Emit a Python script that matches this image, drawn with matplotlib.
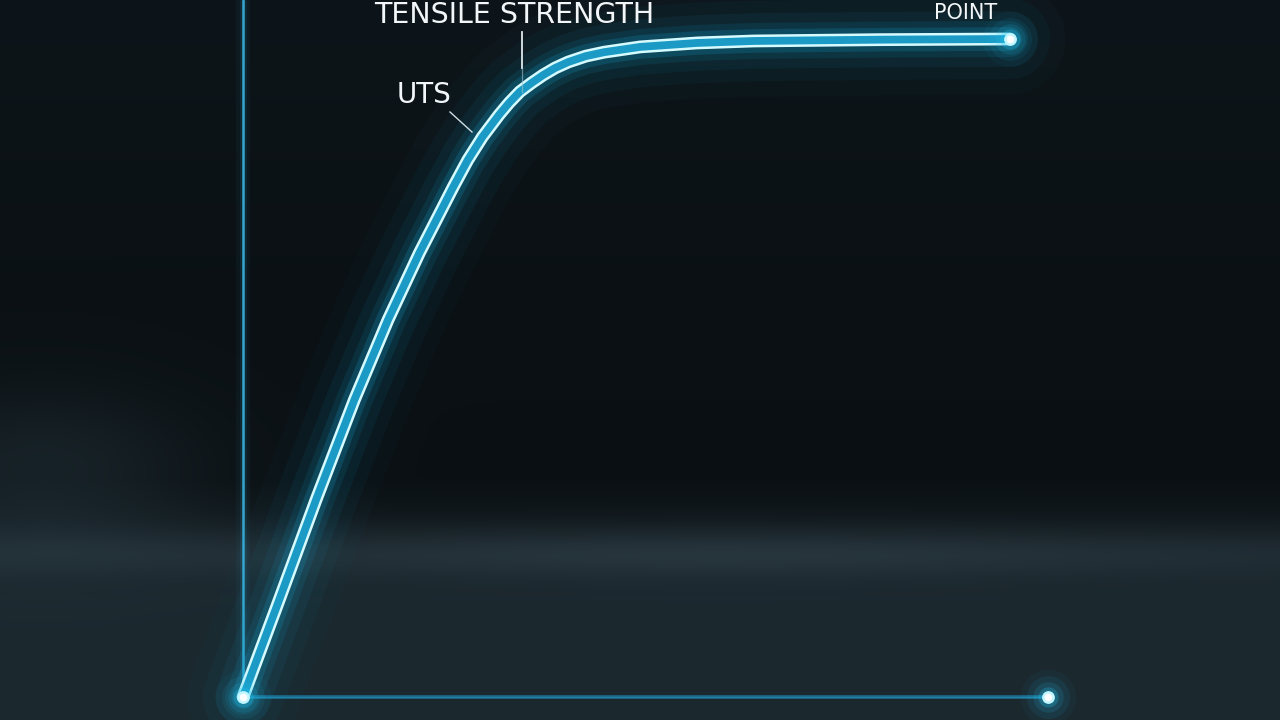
import numpy as np
import matplotlib
matplotlib.use("Agg")
import matplotlib.pyplot as plt

# stress-strain curve (normalised units: strain 0..1, stress 0..1) ---------------
strain = [0.0, 0.047, 0.095, 0.145, 0.189, 0.230, 0.274, 0.293, 0.312, 0.334,
          0.347, 0.361, 0.376, 0.391, 0.407, 0.424, 0.447, 0.471, 0.518, 0.592,
          0.666, 0.831, 1.0]
stress = [0.0, 0.147, 0.299, 0.451, 0.573, 0.675, 0.775, 0.816, 0.851, 0.885,
          0.903, 0.920, 0.933, 0.945, 0.956, 0.965, 0.974, 0.980, 0.988, 0.994,
          0.997, 0.999, 1.0]
axis_end = 1.05          # end of strain axis
labels = ["TENSILE STRENGTH", "UTS", "POINT"]

# pixel mapping: origin at (243, 697), curve end at (1010, 39)
sx, sy = 767.0, 658.0
xlim = (-243 / sx, (1280 - 243) / sx)
ylim = (-(720 - 697) / sy, 697 / sy)


def px(x):
    return (x - 243) / sx


def py(y):
    return (697 - y) / sy


fig = plt.figure(figsize=(12.8, 7.2), dpi=100)
ax = fig.add_axes([0, 0, 1, 1])
ax.set_xlim(*xlim)
ax.set_ylim(*ylim)
ax.axis("off")

# background --------------------------------------------------------------------
H, W = 360, 640
yy = np.linspace(0, 720, H)[:, None]
xx = np.linspace(0, 1280, W)[None, :]
base = np.array([0.040, 0.062, 0.075])
low = np.array([0.108, 0.158, 0.182])
t = np.clip((yy - 480) / 120, 0, 1)
img = base + t[..., None] * (low - base)
band = np.exp(-((yy - 553) / 26) ** 2) * (0.55 + 0.45 * np.exp(-((xx - 720) / 420) ** 2))
img = img + band[..., None] * np.array([0.070, 0.085, 0.095])
left = np.exp(-((yy - 470) / 85) ** 2) * np.exp(-((xx - 40) / 170) ** 2)
img = img + left[..., None] * np.array([0.05, 0.07, 0.08])
top = np.exp(-(yy / 220) ** 2)
img = img + top[..., None] * np.array([0.012, 0.020, 0.024])
ax.imshow(np.clip(img, 0, 1), extent=(xlim[0], xlim[1], ylim[0], ylim[1]),
          aspect="auto", zorder=0, interpolation="bicubic")

# axes lines -----------------------------------------------------------------------
ymax_axis = ylim[1]
for lw, a in [(10, 0.05), (5, 0.10)]:
    ax.plot([0, 0], [0, ymax_axis], color="#2aa8d8", lw=lw, alpha=a, zorder=2,
            solid_capstyle="butt")
ax.plot([0, 0], [0, ymax_axis], color="#36a6cf", lw=1.8, zorder=3)
ax.plot([0, axis_end], [0, 0], color="#1a6a8a", lw=2.6, zorder=3)
ax.plot([0, axis_end], [0, 0], color="#2a8fb5", lw=0.9, zorder=3, alpha=0.6)

# glowing curve ------------------------------------------------------------------
for lw, a in [(80, 0.025), (58, 0.045), (40, 0.07), (26, 0.11), (17, 0.2)]:
    ax.plot(strain, stress, color="#16a6d4", lw=lw, alpha=a, zorder=4,
            solid_capstyle="round", solid_joinstyle="round")
ax.plot(strain, stress, color="#d6fbff", lw=9.2, zorder=5,
        solid_capstyle="round", solid_joinstyle="round")
ax.plot(strain, stress, color="#1a9ac4", lw=5.6, zorder=6,
        solid_capstyle="round", solid_joinstyle="round")

# glow dots -----------------------------------------------------------------------
dots_x = [strain[0], strain[-1], axis_end]
dots_y = [stress[0], stress[-1], 0.0]
for s, a in [(1600, 0.045), (950, 0.08), (480, 0.13), (210, 0.26)]:
    ax.scatter(dots_x, dots_y, s=s, color="#23c4ef", alpha=a, lw=0, zorder=7)
ax.scatter(dots_x, dots_y, s=85, color="#bff6ff", lw=0, zorder=8)
ax.scatter(dots_x, dots_y, s=30, color="#ffffff", lw=0, zorder=9)

# labels ----------------------------------------------------------------------------
font = ["DejaVu Sans"]
ax.text(px(514), py(23), labels[0], color="#f2f6f8", fontsize=20.5,
        family=font, ha="center", va="baseline", zorder=10)
ax.plot([px(522)] * 2, [py(32), py(68)], color="#dfe8ec", lw=1.3, zorder=10)
ax.plot([px(522)] * 2, [py(68), py(92)], color="#9fc4d0", lw=0.9, alpha=0.6,
        zorder=10)

ax.text(px(424), py(103), labels[1], color="#f2f6f8", fontsize=20,
        family=font, ha="center", va="baseline", zorder=10)
ax.plot([px(450), px(472)], [py(112), py(132)], color="#cfdde3", lw=1.0,
        zorder=10)

ax.text(px(966), py(19), labels[2], color="#f2f6f8", fontsize=15,
        family=font, ha="center", va="baseline", zorder=10)

fig.savefig("out.png", dpi=100, facecolor="#0b1216")
